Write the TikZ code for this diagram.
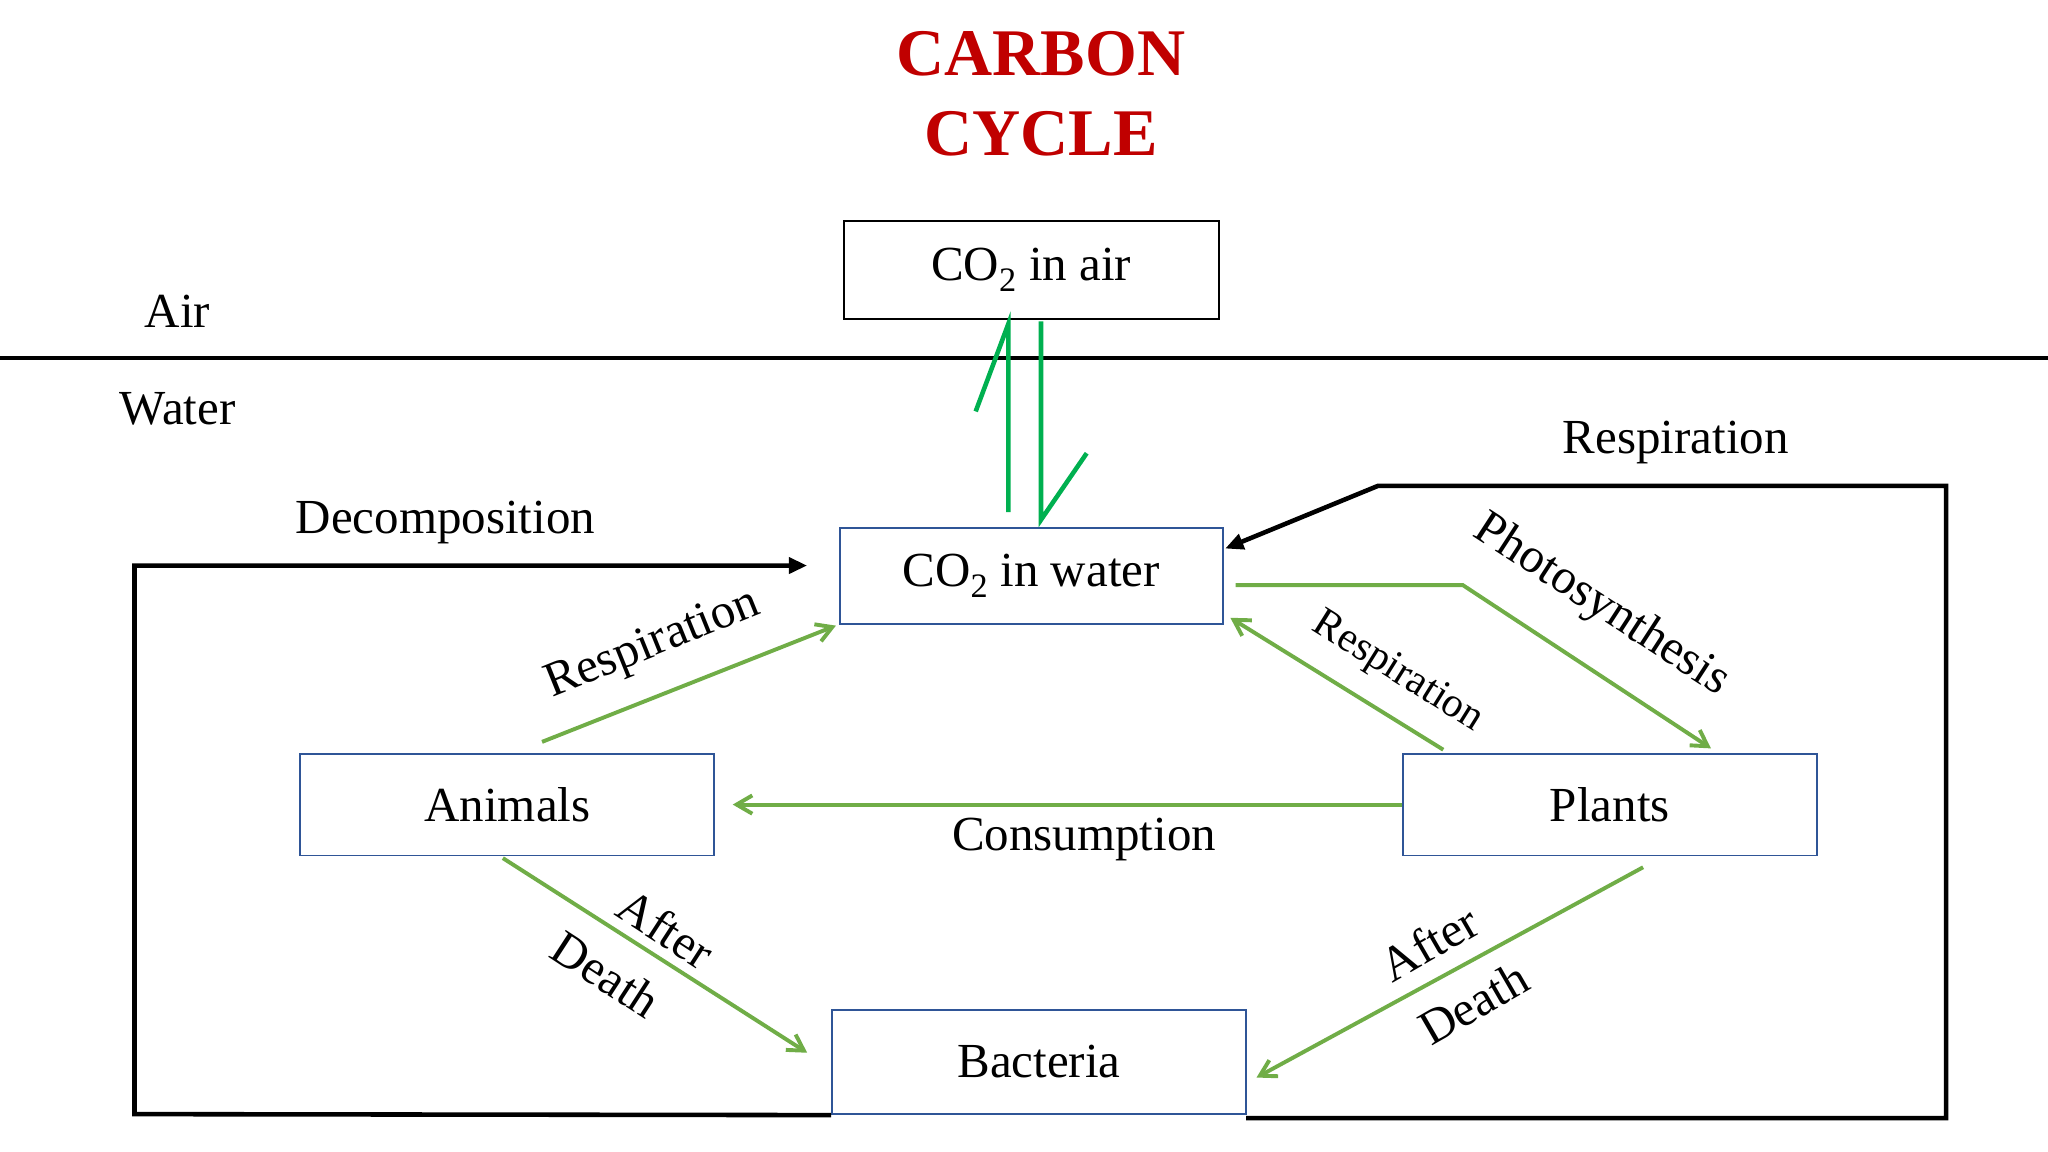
\documentclass[tikz,border=0pt]{standalone}
\usepackage{fontspec}
\setmainfont{Liberation Serif}
\usetikzlibrary{arrows.meta}
\definecolor{tred}{RGB}{192,0,0}
\definecolor{og}{RGB}{112,173,71}
\definecolor{bg}{RGB}{0,176,80}
\definecolor{bb}{RGB}{47,85,151}
\tikzset{
 lbl/.style={font=\fontsize{37.5}{40}\selectfont, inner sep=0pt},
 bbox/.style={draw=bb, line width=1.5pt, minimum width=317pt, minimum height=78pt, font=\fontsize{37.5}{40}\selectfont},
 kbox/.style={draw=black, line width=1.5pt, minimum width=287pt, minimum height=75pt, font=\fontsize{37.5}{40}\selectfont},
 garr/.style={draw=og, line width=3pt, -{Straight Barb[length=12pt,width=14pt]}},
 karr/.style={draw=black, line width=3.5pt, -{Triangle[length=14pt,width=12pt]}},
 kline/.style={draw=black, line width=3.5pt},
 half/.style={draw=bg, line width=3.5pt}
}
\begin{document}
\begin{tikzpicture}[x=1pt,y=-1pt]
\useasboundingbox (0,0) rectangle (1568,882);
\node[font=\bfseries\fontsize{51}{61}\selectfont, text=tred, align=center] (title) at (797,72) {CARBON\\CYCLE};
\node[kbox] (air) at (789.5,206.5) {CO\textsubscript{2} in air};
\draw[line width=3.5pt] (0,274) coordinate (l0) -- (1568,274) coordinate (l1);
\node[lbl] (airl) at (136,238) {Air};
\node[lbl] (wat) at (136,313) {Water};
\node[bbox, minimum width=293pt, minimum height=74pt] (cw) at (789.5,441) {CO\textsubscript{2} in water};
\node[bbox] (an) at (388.5,616) {Animals};
\node[bbox] (pl) at (1232.5,616) {Plants};
\node[bbox, minimum height=80pt] (ba) at (795.5,813) {Bacteria};
\draw[half] (772,392) -- (772,248) -- (747,315);
\draw[half] (797,246) -- (797,398) -- (832,347);
\draw[garr] (415,568) -- (640,479);
\node[lbl, rotate=22] (r1) at (500,494) {Respiration};
\draw[garr] (1105,574) -- (942,473);
\node[lbl, rotate=-32, font=\fontsize{32}{36}\selectfont] (r2) at (1070,515) {Respiration};
\draw[garr] (946,448) -- (1120,448) -- (1310,573);
\node[lbl, rotate=-33] (ph) at (1226,464) {Photosynthesis};
\draw[garr] (pl.west) -- (561,616);
\node[lbl] (co) at (830,643) {Consumption};
\draw[garr] (385,657) -- (618,806);
\node[lbl, rotate=-33] (a1) at (510,711) {After};
\node[lbl, rotate=-33] (d1) at (464,746) {Death};
\draw[garr] (1258,664) -- (962,825);
\node[lbl, rotate=30] (a2) at (1094,722) {After};
\node[lbl, rotate=30] (d2) at (1128,768) {Death};
\draw[karr] (ba.south west) -- (103,853) -- (103,433) -- (618,433);
\node[lbl] (dc) at (341,400) {Decomposition};
\draw[karr] (954,856) -- (1490,856) -- (1490,372) -- (1055,372) -- (938,420);
\node[lbl] (r3) at (1283,339) {Respiration};
\end{tikzpicture}
\end{document}
